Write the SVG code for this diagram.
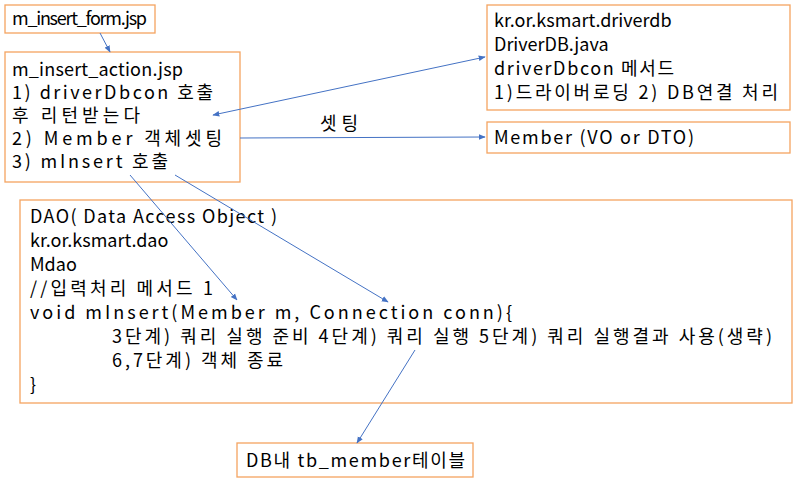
<svg xmlns="http://www.w3.org/2000/svg" width="800" height="485" viewBox="0 0 800 485">
<defs><marker id="a" viewBox="0 0 10 10" refX="9" refY="5" markerWidth="7" markerHeight="7" orient="auto-start-reverse"><path d="M0,1 L10,5 L0,9 z" fill="#4472C4"/></marker></defs>
<style>
.b{fill:#fff;stroke:#F4A460;stroke-width:1.3}
text{font-family:"Noto Sans CJK KR","Noto Sans",sans-serif;font-size:18px;fill:#000}
.c line{stroke:#4472C4;stroke-width:1;marker-end:url(#a)}
</style>
<rect width="800" height="485" fill="#fff"/>
<g id="form"><rect class="b" x="5" y="5" width="150" height="28"/><text x="12" y="25" textLength="135">m_insert_form.jsp</text></g>
<g id="action"><rect class="b" x="5" y="52" width="235" height="130"/>
<text x="12" y="76" textLength="171">m_insert_action.jsp</text><text x="12" y="99" textLength="201">1) driverDbcon 호출</text><text x="12" y="122" textLength="128">후 리턴받는다</text><text x="12" y="145" textLength="210">2) Member 객체셋팅</text><text x="12" y="168" textLength="156">3) mInsert 호출</text></g>
<g id="driver"><rect class="b" x="487" y="5" width="303" height="105"/>
<text x="494" y="27">kr.or.ksmart.driverdb</text><text x="494" y="51">DriverDB.java</text><text x="494" y="75" textLength="180">driverDbcon 메서드</text><text x="494" y="99" textLength="284">1)드라이버로딩 2) DB연결 처리</text></g>
<g id="member"><rect class="b" x="487" y="122" width="303" height="31"/><text x="494" y="144" textLength="200">Member (VO or DTO)</text></g>
<g id="dao"><rect class="b" x="20" y="200" width="772" height="203"/>
<text x="30" y="223" textLength="247">DAO( Data Access Object )</text><text x="30" y="247">kr.or.ksmart.dao</text><text x="30" y="271">Mdao</text><text x="30" y="295" textLength="183">//입력처리 메서드 1</text><text x="30" y="319" textLength="482">void mInsert(Member m, Connection conn){</text>
<text x="112" y="343" textLength="660">3단계) 쿼리 실행 준비 4단계) 쿼리 실행 5단계) 쿼리 실행결과 사용(생략)</text><text x="112" y="367" textLength="171">6,7단계) 객체 종료</text><text x="30" y="391">}</text></g>
<g id="db"><rect class="b" x="237" y="443" width="236" height="34"/><text x="246" y="467" textLength="219">DB내 tb_member테이블</text></g>
<g class="c" id="connectors">
<line x1="100" y1="33" x2="110" y2="52"/>
<line x1="213" y1="115" x2="485" y2="57" style="marker-start:url(#a)"/>
<line x1="240" y1="138" x2="485" y2="137"/>
<line x1="130" y1="175" x2="237" y2="300"/>
<line x1="175" y1="175" x2="388" y2="302"/>
<line x1="415" y1="350" x2="357" y2="443"/>
</g>
<text x="320" y="130" textLength="38">셋팅</text>
</svg>
